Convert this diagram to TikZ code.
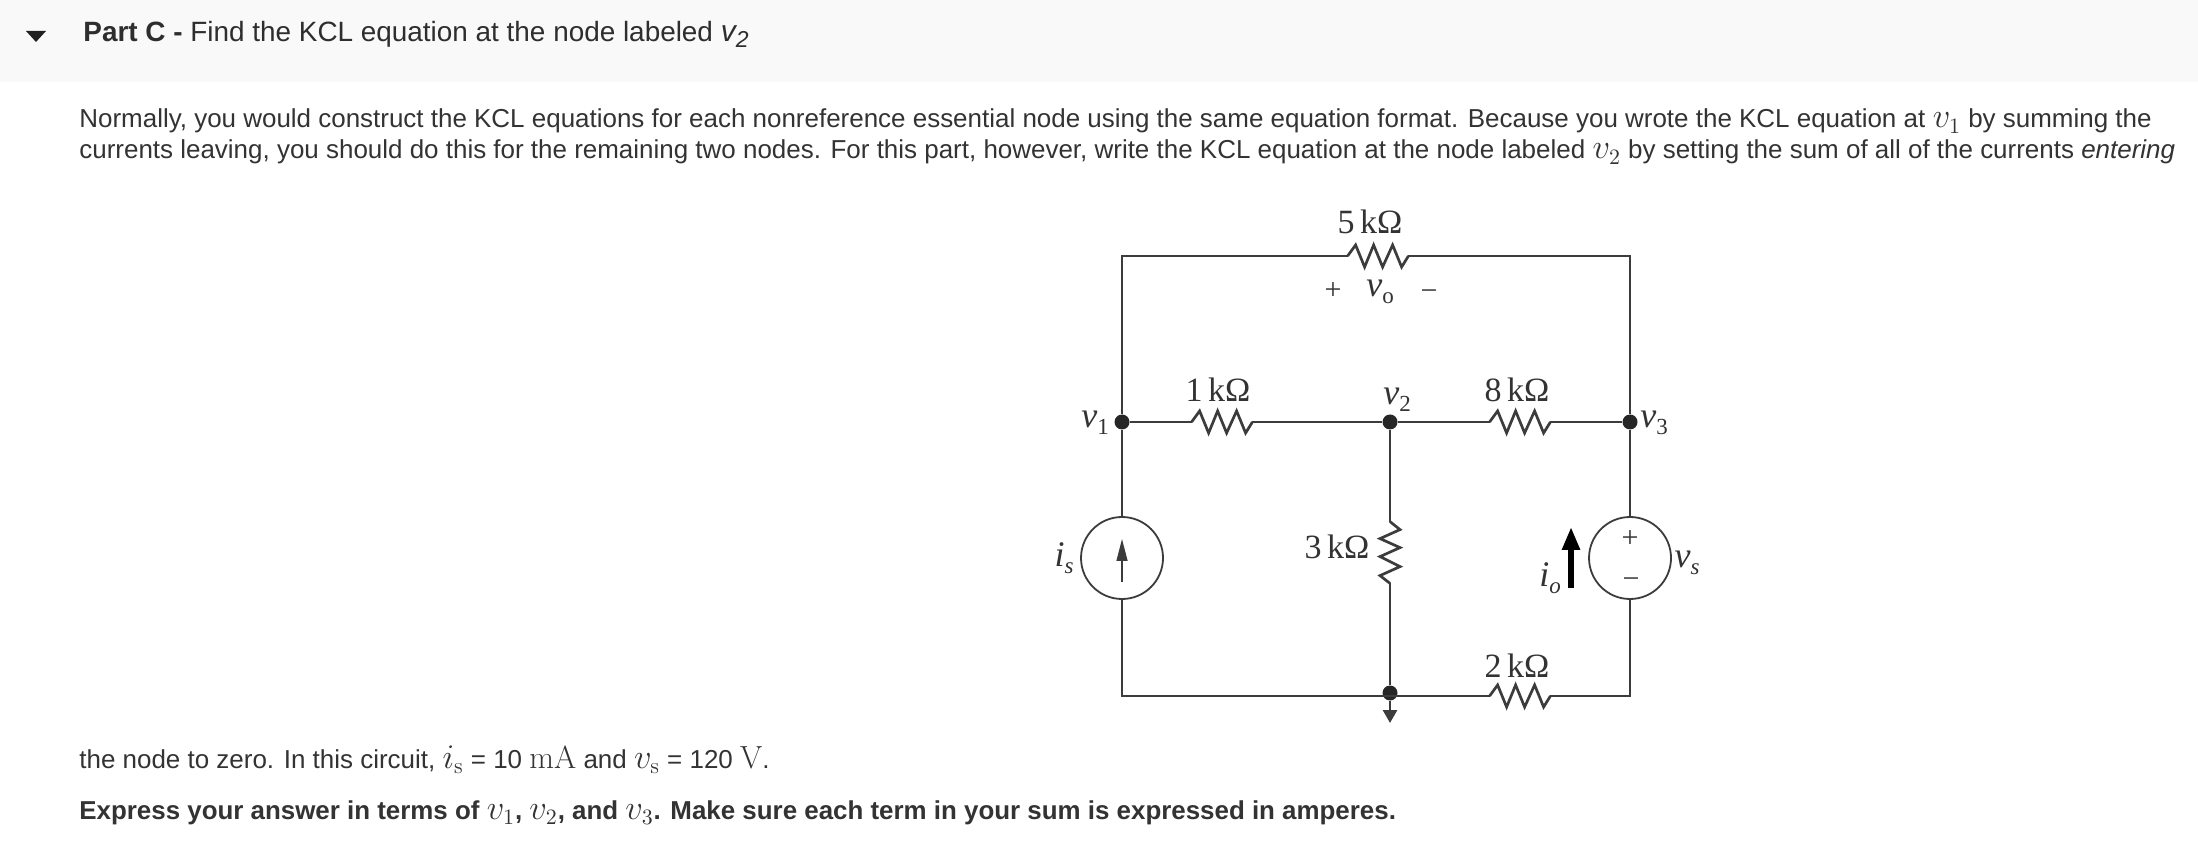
\documentclass[tikz,border=0pt]{standalone}
\usepackage{fontspec}
\usetikzlibrary{arrows.meta}
\newfontfamily\sansf{Liberation Sans}
\newfontfamily\seriff{Liberation Serif}
\definecolor{ink}{HTML}{333333}
\definecolor{wire}{HTML}{3C3C3C}
\definecolor{headbg}{HTML}{F9F9F9}
\newcommand{\mm}[1]{{\fontsize{16pt}{16pt}\selectfont$#1$}}
\newcommand{\cv}[2]{{\itshape #1\raisebox{-.2em}{\fontsize{11.5pt}{11.5pt}\selectfont #2}}}
\newcommand{\cu}[2]{{\itshape #1\raisebox{-.2em}{\fontsize{11.5pt}{11.5pt}\selectfont\upshape #2}}}
\newcommand{\hres}[3]{%
  \node[resbox] (#1) at (#2,#3) {};
  \draw[wireline,line join=miter] (#1.west) -- ++(8,-11) -- ++(9,22) -- ++(9,-22) -- ++(9,22) -- ++(10,-22) -- ++(9,22) -- (#1.east);}
\tikzset{
  textline/.style={anchor=base west,inner sep=0pt,text=ink,font=\sansf\fontsize{12.98pt}{14pt}\selectfont},
  boldline/.style={textline,font=\sansf\bfseries\fontsize{12.95pt}{14pt}\selectfont},
  headline/.style={anchor=base west,inner sep=0pt,text=ink!90!black,font=\sansf\fontsize{13.95pt}{16pt}\selectfont},
  wireline/.style={draw=wire,line width=1.35pt},
  resbox/.style={inner sep=0pt,minimum width=30pt,minimum height=11pt},
  dot/.style={circle,fill=black!85,inner sep=0pt,minimum size=7.5pt},
  source/.style={circle,draw=wire,line width=.9pt,inner sep=0pt,minimum size=41pt},
  clabel/.style={anchor=base,inner sep=0pt,text=ink,font=\seriff\fontsize{17pt}{17pt}\selectfont},
  csym/.style={inner sep=0pt,text=ink,font=\seriff\fontsize{15pt}{15pt}\selectfont},
  cvar/.style={inner sep=0pt,text=ink,font=\seriff\fontsize{18pt}{18pt}\selectfont},
}
\begin{document}
\begin{tikzpicture}[x=.5pt,y=-.5pt]
\useasboundingbox (0,0) rectangle (2198,854);
\fill[white] (0,0) rectangle (2198,854);
\fill[headbg] (0,0) rectangle (2198,82);
\fill[black!88] (26,31) -- (46,31) -- (36,42) -- cycle;
\node[headline] (head) at (83,42) {{\bfseries Part C -} Find the KCL equation at the node labeled {\fontsize{15pt}{15pt}\selectfont\cv{v}{2}}};
\node[textline] (l1) at (79,128) {Normally, you would construct the KCL equations for each nonreference essential node using the same equation format. Because you wrote the KCL equation at \mm{v_1} by summing the};
\node[textline] (l2) at (79,159) {currents leaving, you should do this for the remaining two nodes. For this part, however, write the KCL equation at the node labeled \mm{v_2} by setting the sum of all of the currents \emph{entering}};
\node[textline] (l3) at (79,768) {the node to zero. In this circuit, \mm{i_{\mathrm{s}}} = 10 \mm{\mathrm{mA}} and \mm{v_{\mathrm{s}}} = 120 \mm{\mathrm{V}}.};
\node[boldline] (l4) at (79,819) {Express your answer in terms of \mm{v_1}, \mm{v_2}, and \mm{v_3}. Make sure each term in your sum is expressed in amperes.};

% junctions and corners
\coordinate (tl) at (1122,256);
\coordinate (tr) at (1630,256);
\coordinate (bl) at (1122,696);
\coordinate (br) at (1630,696);
\coordinate (gnd) at (1390,723);
\node[dot] (n1) at (1122,422) {};
\node[dot] (n2) at (1390,422) {};
\node[dot] (n3) at (1630,422) {};
\node[dot] (n4) at (1390,693) {};
\node[source] (is) at (1122,558) {};
\node[source] (vs) at (1630,558) {};

% resistors
\hres{r5}{1378}{256}
\hres{r1}{1222}{422}
\hres{r8}{1520}{422}
\hres{r2}{1520}{696}
\node[inner sep=0pt,minimum width=20pt,minimum height=30.5pt] (r3) at (1390,552.5) {};
\draw[wireline] (r3.north) -- ++(10,8) -- ++(-20,9) -- ++(20,9) -- ++(-20,9) -- ++(20,10) -- ++(-20,9) -- (r3.south);

% wires
\draw[wireline] (r5.west) -- (tl) -- (n1);
\draw[wireline] (r5.east) -- (tr) -- (n3);
\draw[wireline] (n1) -- (r1.west);
\draw[wireline] (r1.east) -- (n2);
\draw[wireline] (n2) -- (r8.west);
\draw[wireline] (r8.east) -- (n3);
\draw[wireline] (n2) -- (r3.north);
\draw[wireline] (r3.south) -- (n4);
\draw[wireline] (n1) -- (is);
\draw[wireline] (is) -- (bl) -- (r2.west);
\draw[wireline] (n3) -- (vs);
\draw[wireline] (vs) -- (br) -- (r2.east);
\draw[wireline,-{Triangle[width=7pt,length=6.5pt]}] (n4) -- (gnd);

% source arrows
\coordinate (isa) at (1122,582);
\coordinate (isb) at (1122,539);
\draw[draw=wire,line width=.7pt,-{Triangle[width=5.5pt,length=11pt]}] (isa) -- (isb);
\coordinate (ioa) at (1571,588);
\coordinate (iob) at (1571,527);
\draw[draw=black,line width=2.8pt,-{Triangle[width=8.5pt,length=11.5pt]}] (ioa) -- (iob);

% labels
\node[clabel] (t5) at (1370,234) {5\,kΩ};
\node[clabel] (t1) at (1218,402) {1\,kΩ};
\node[clabel] (t8) at (1517,402) {8\,kΩ};
\node[clabel] (t3) at (1337,559) {3\,kΩ};
\node[clabel] (t2) at (1517,677) {2\,kΩ};
\node[csym] (plus) at (1333,291) {+};
\node[csym] (minus) at (1429,295) {\textminus};
\node[cvar] (vo) at (1380,292) {\cu{v}{o}};
\node[cvar] (v1) at (1095,423) {\cu{v}{1}};
\node[cvar] (v2) at (1397,400) {\cu{v}{2}};
\node[cvar] (v3) at (1654,423) {\cu{v}{3}};
\node[cvar] (iss) at (1064,558) {\cv{i}{s}};
\node[cvar] (ioo) at (1550,578) {\cv{i}{o}};
\node[cvar] (vss) at (1687,563) {\cv{v}{s}};
\node[csym] (vp) at (1630,539) {+};
\node[csym] (vm) at (1631,583) {\textminus};
\end{tikzpicture}
\end{document}
